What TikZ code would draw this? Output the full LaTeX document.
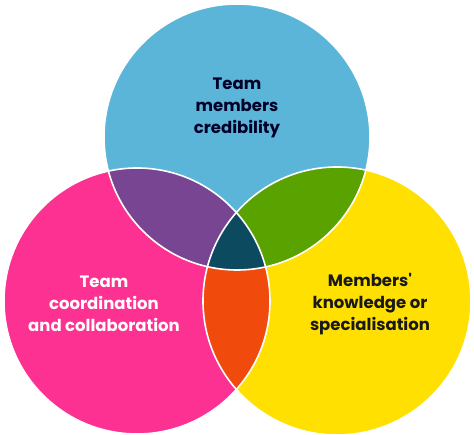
\documentclass[tikz,border=0pt]{standalone}
\usepackage{fontspec}
\setmainfont{Poppins}[UprightFont=* Bold,BoldFont=* Bold,Ligatures=TeXOff]
\definecolor{credblue}{HTML}{5BB5D8}
\definecolor{coordpink}{HTML}{FC3191}
\definecolor{knowyellow}{HTML}{FFE000}
\definecolor{lenspurple}{HTML}{774592}
\definecolor{lensgreen}{HTML}{5AA200}
\definecolor{lensorange}{HTML}{F04A0C}
\definecolor{coreteal}{HTML}{0C4A60}
\tikzset{
  label/.style={align=center,font=\fontsize{16.5}{22}\selectfont},
}
\begin{document}
\begin{tikzpicture}[x=1pt,y=1pt]
      \useasboundingbox (0,0) rectangle (474,435);
      \coordinate (cb) at (237,298);
      \coordinate (cp) at (137,134);
      \coordinate (cy) at (337,134);
      \fill[credblue] (cb) circle (133pt);
      \fill[coordpink] (cp) circle (133pt);
      \fill[knowyellow] (cy) circle (134pt);
      \begin{scope}
        \clip (cb) circle (133pt);
        \fill[lenspurple] (cp) circle (133pt);
        \fill[lensgreen] (cy) circle (134pt);
      \end{scope}
      \begin{scope}
        \clip (cp) circle (133pt);
        \fill[lensorange] (cy) circle (134pt);
        \clip (cy) circle (134pt);
        \fill[coreteal] (cb) circle (133pt);
      \end{scope}
      \foreach \c/\r in {cb/133pt,cp/133pt,cy/134pt} {
        \draw[white,line width=1.6pt] (\c) circle (\r);
      }
      \node[label,text=black!85!blue] (credtext) at (237,327) {Team\\members\\credibility};
      \node[label,text=white] (coordtext) at (104,131) {Team\\coordination\\and collaboration};
      \node[label,text=black!90] (knowtext) at (370,131) {Members'\\knowledge or\\specialisation};
    \end{tikzpicture}
\end{document}
